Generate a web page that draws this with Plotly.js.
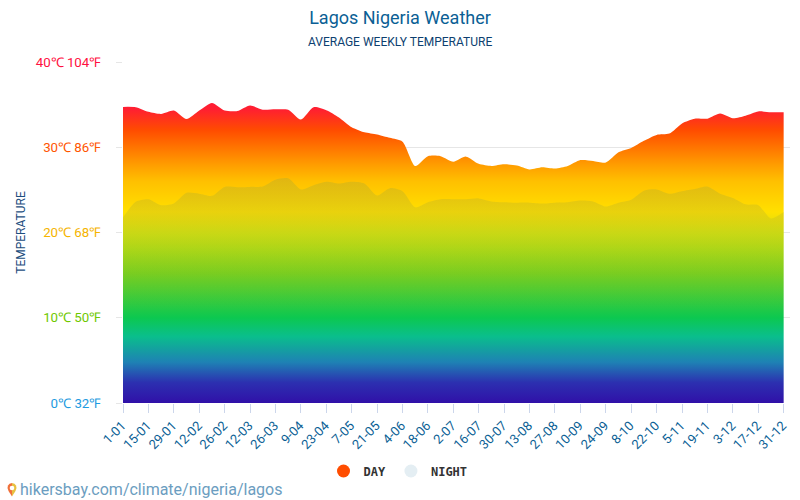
<!DOCTYPE html>
<html><head><meta charset="utf-8">
<script src="https://cdn.plot.ly/plotly-3.0.1.min.js"></script>
<style>html,body{margin:0;padding:0;background:#fff}#c{width:800px;height:500px}</style>
</head><body><div id="c"></div>
<script>
const weekIndex = [0,1,2,3,4,5,6,7,8,9,10,11,12,13,14,15,16,17,18,19,20,21,22,23,24,25,26,27,28,29,30,31,32,33,34,35,36,37,38,39,40,41,42,43,44,45,46,47,48,49,50,51,52];
const dayTemp = [34.73,34.69,34.15,33.9,34.3,33.3,34.3,35.2,34.3,34.25,34.9,34.4,34.45,34.4,33.25,34.7,34.35,33.5,32.35,31.75,31.5,31.1,30.65,27.8,28.95,28.95,28.3,28.9,28.05,27.8,28.0,27.85,27.4,27.65,27.5,27.8,28.5,28.4,28.2,29.4,29.9,30.75,31.45,31.6,32.8,33.35,33.35,33.95,33.4,33.7,34.2,34.1,34.1];
const nightTemp = [21.75,23.6,23.9,23.2,23.4,24.65,24.55,24.3,25.35,25.3,25.35,25.4,26.2,26.35,25.05,25.55,25.95,25.75,25.95,25.75,24.35,25.2,24.85,22.95,23.55,23.9,23.9,23.9,24.0,23.65,23.55,23.5,23.5,23.4,23.5,23.55,23.75,23.65,23.05,23.5,23.85,24.9,25.05,24.55,24.85,25.1,25.4,24.55,24.05,23.3,23.2,21.65,22.4];
const xTickVals = [0,2,4,6,8,10,12,14,16,18,20,22,24,26,28,30,32,34,36,38,40,42,44,46,48,50,52];
const xTickText = ['1-01','15-01','29-01','12-02','26-02','12-03','26-03','9-04','23-04','7-05','21-05','4-06','18-06','2-07','16-07','30-07','13-08','27-08','10-09','24-09','8-10','22-10','5-11','19-11','3-12','17-12','31-12'];
const yTickVals = [0,10,20,30,40];
const yTickText = ['0℃ 32℉','10℃ 50℉','20℃ 68℉','30℃ 86℉','40℃ 104℉'];
const yTickColors = ['#1e9be0','#6fc800','#f5b400','#ff5500','#ff1040'];
// colorscales run from the top of the gradient (0) to the bottom (1)
const dayStops = [[0,'#ff0050'],[0.14,'#ff2030'],[0.2,'#ff4c00'],[0.25,'#ff7400'],[0.3,'#ff9c00'],[0.35,'#ffc000'],[0.44,'#ffe000'],[0.5,'#d0e010'],[0.62,'#78ce20'],[0.75,'#0cc850'],[0.805,'#0abe8c'],[0.88,'#1e82b4'],[0.94,'#2c30b0'],[1,'#3010a8']];
const nightStops = [[0,'rgba(170,170,50,0.36)'],[0.17,'rgba(170,170,50,0.25)'],[0.32,'rgba(170,170,50,0.06)'],[0.6,'rgba(170,170,50,0)'],[1,'rgba(170,170,50,0)']];

const traces = [
 {x:weekIndex,y:dayTemp,type:'scatter',mode:'lines',line:{width:0,shape:'spline',smoothing:0.7},fill:'tozeroy',
  fillgradient:{type:'vertical',start:40,stop:0,colorscale:dayStops},showlegend:false,hoverinfo:'skip'},
 {x:weekIndex,y:nightTemp,type:'scatter',mode:'lines',line:{width:0,shape:'spline',smoothing:0.7},fill:'tozeroy',
  fillgradient:{type:'vertical',start:26.5,stop:0,colorscale:nightStops},showlegend:false,hoverinfo:'skip'},
 {x:[null],y:[null],type:'scatter',mode:'markers',name:'DAY',marker:{size:13,color:'#ff4d00'}},
 {x:[null],y:[null],type:'scatter',mode:'markers',name:'NIGHT',marker:{size:13,color:'#e4eef3'}}
];
// paper coordinates from window pixels, for the footer and the small pin logo
const px = v => (v-123)/667, py = v => (403-v)/341;
const pinPath = (d) => 'M'+d.map(p=>px(p[0])+','+py(p[1])).join(' L')+' Z';
const pinLeft = [[12,483],[9.5,483.7],[8,485.5],[7.5,488],[8.5,491],[12,496.5]];
const pinRight = [[12,483],[14.5,483.7],[16,485.5],[16.5,488],[15.5,491],[12,496.5]];
const layout = {
 width:800,height:500,paper_bgcolor:'#fff',plot_bgcolor:'#fff',
 margin:{l:123,r:10,t:62,b:97},
 font:{family:'Roboto, sans-serif'},
 title:{text:'Lagos Nigeria Weather',x:0.5,xref:'container',xanchor:'center',y:0.964,yanchor:'middle',font:{size:18,color:'#0b5f95',family:'Roboto'}},
 xaxis:{range:[0,52.5],tickmode:'array',tickvals:xTickVals,ticktext:xTickText,tickangle:-45,ticks:'outside',ticklen:9,tickcolor:'#ccd6eb',tickwidth:1,ticklabelshift:-1,
  showgrid:false,zeroline:false,showline:false,tickfont:{size:13,color:'#0b5f95',family:'Roboto'}},
 yaxis:{range:[0,40],tickmode:'array',tickvals:yTickVals,ticktext:yTickText.map((t,i)=>`<span style="color:${yTickColors[i]}">${t}</span>`),ticks:'outside',ticklen:6,tickcolor:'#e6e6e6',ticklabelstandoff:12,
  gridcolor:'#e6e6e6',zeroline:false,showline:false,tickfont:{size:13.3,family:'Roboto'},
  title:{text:'TEMPERATURE',standoff:7,font:{size:12,color:'#1d4e7e',family:'Roboto'}}},
 legend:{orientation:'h',x:0.4975,xref:'container',xanchor:'center',y:0.058,yref:'container',yanchor:'middle',font:{size:12,color:'#333',family:'DejaVu Sans Mono',weight:'bold'},itemsizing:'trace'},
 shapes:[
  {type:'path',xref:'paper',yref:'paper',path:pinPath(pinLeft),fillcolor:'#f0703a',line:{width:0},layer:'above'},
  {type:'path',xref:'paper',yref:'paper',path:pinPath(pinRight),fillcolor:'#e8c040',line:{width:0},layer:'above'},
  {type:'circle',xref:'paper',yref:'paper',x0:px(9.7),x1:px(14.3),y0:py(490.3),y1:py(485.7),fillcolor:'#fff',line:{width:0},layer:'above'}
 ],
 annotations:[
  {text:'AVERAGE WEEKLY TEMPERATURE',xref:'paper',yref:'paper',x:px(400),y:py(42),showarrow:false,xanchor:'center',yanchor:'middle',font:{size:12,color:'#0d3f70',family:'Roboto'}},
  {text:'hikersbay.com/climate/nigeria/lagos',xref:'paper',yref:'paper',x:px(18),y:py(489.5),showarrow:false,xanchor:'left',yanchor:'middle',font:{size:16,color:'#6b9dc0',family:'Roboto'}}
 ]
};
Plotly.newPlot('c',traces,layout,{displayModeBar:false});
</script></body></html>
